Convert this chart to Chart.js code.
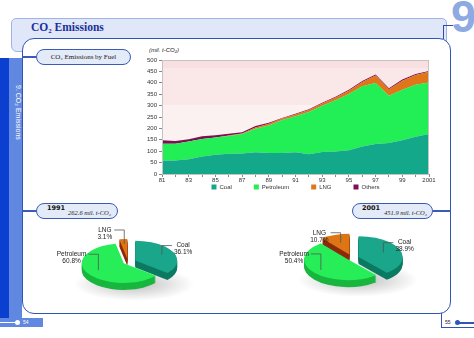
<!DOCTYPE html>
<html>
<head>
<meta charset="utf-8">
<script src="https://cdn.jsdelivr.net/npm/chart.js@4"></script>
<style>
body { margin: 0; width: 474px; height: 338px; background: #fff; position: relative; overflow: hidden; font-family: "Liberation Sans", Arial, sans-serif; }
div, canvas { position: absolute; box-sizing: border-box; }
#hdr { left: 11px; top: 18px; width: 436px; height: 34px; background: #dfe7f8; border: 1px solid #9fb4e6; border-radius: 5px 5px 0 6px; }
#hdrText { left: 31px; top: 21px; font: bold 11.5px "Liberation Serif", "DejaVu Serif", serif; color: #1a2f9c; }
#nine { left: 451px; top: -9px; font: bold 45px "Liberation Sans", Arial, sans-serif; color: #8eaae2; }
#hook { left: 443px; top: 25px; width: 10px; height: 14px; border-top: 1.5px solid #2a4fb0; border-left: 1.5px solid #2a4fb0; }
#panel { left: 22px; top: 38px; width: 429px; height: 276px; background: #fff; border: 1.5px solid #2f55b5; border-radius: 12px; }
#stripeDark { left: 0; top: 58px; width: 9px; height: 260px; background: #0b3fd0; }
#stripeLight { left: 9px; top: 58px; width: 13px; height: 269px; background: #6188e0; }
#footL { left: 0; top: 318px; width: 43px; height: 9px; background: #6188e0; }
#footLine { left: 0; top: 322px; width: 17px; height: 1px; background: #fff; }
#footDot { left: 15px; top: 320px; width: 5px; height: 5px; border-radius: 50%; background: #fff; }
#p54 { left: 23px; top: 319px; font-size: 5px; color: #fff; }
#side { left: 10px; top: 85px; width: 12px; writing-mode: vertical-rl; font-size: 7px; color: #fff; white-space: nowrap; }
#footR { left: 441px; top: 313px; width: 40px; height: 15px; border-left: 1.5px solid #2f55b5; border-bottom: 1.5px solid #2f55b5; }
#p55 { left: 445px; top: 319px; font-size: 5px; color: #223; }
#footRLine { left: 456px; top: 322px; width: 20px; height: 1.5px; background: #2f55b5; }
#footRDot { left: 455px; top: 320px; width: 5px; height: 5px; border-radius: 50%; background: #2f55b5; }
.pill { background: #e3eaf8; border: 1px solid #3a5bb8; border-radius: 8px; }
.link { height: 1.5px; background: #3a5bb8; }
#t1 { left: 36px; top: 49px; width: 95px; height: 16px; font: 7px "Liberation Serif", serif; color: #222; text-align: center; line-height: 14px; }
.yr { font: bold 6.5px "DejaVu Sans", sans-serif; color: #111; }
.tot { font: italic 6.5px "Liberation Serif", serif; color: #222; }
#unit { left: 149px; top: 47px; font: italic 6px "Liberation Sans", Arial, sans-serif; color: #222; }
</style>
</head>
<body>
<div id="hdr"></div>
<div id="hdrText">CO₂ Emissions</div>
<div id="nine">9</div>
<div id="hook"></div>
<div id="stripeDark"></div>
<div id="stripeLight"></div>
<div id="footL"></div>
<div id="footLine"></div>
<div id="footDot"></div>
<div id="p54">54</div>
<div id="side">9. CO₂ Emissions</div>
<div id="panel"></div>
<div id="footR"></div>
<div id="p55">55</div>
<div id="footRLine"></div>
<div id="footRDot"></div>

<div class="link" style="left:22px;top:56px;width:14px"></div>
<div id="t1" class="pill">CO₂ Emissions by Fuel</div>

<div class="link" style="left:22px;top:210px;width:14px"></div>
<div class="pill" style="left:36px;top:203px;width:82px;height:16px"></div>
<div class="yr" style="left:47px;top:204px">1991</div>
<div class="tot" id="tot1991" style="left:68px;top:209px"></div>

<div class="link" style="left:433px;top:210px;width:18px"></div>
<div class="pill" style="left:352px;top:203px;width:81px;height:16px"></div>
<div class="yr" style="left:362px;top:204px">2001</div>
<div class="tot" id="tot2001" style="left:384px;top:209px"></div>

<div id="unit">(mil. t-CO₂)</div>
<canvas id="area" width="310" height="180" style="left:130px;top:44px"></canvas>
<canvas id="pie1991" width="170" height="88" style="left:43px;top:218px"></canvas>
<canvas id="pie2001" width="170" height="88" style="left:267px;top:214px"></canvas>

<script>
"use strict";

// emissions by fuel, mil. t-CO2
const years = ['81', '82', '83', '84', '85', '86', '87', '88', '89', '90', '91', '92', '93', '94', '95', '96', '97', '98', '99', '2000', '2001'];
const coal = [58, 59, 65, 77, 84, 89, 90, 95, 92, 92, 95, 87, 96, 99, 104, 121, 132, 136, 148, 163, 175];
const petroleum = [75, 74, 77, 77, 76, 78, 85, 103, 121, 145, 158, 185, 203, 225, 247, 264, 267, 207, 222, 228, 226];
const lng = [0, 0, 0, 0, 0, 2, 3, 6, 7, 6, 8, 9, 10, 12, 14, 19, 33, 29, 39, 43, 47];
const others = [15, 12, 10, 12, 10, 7, 5, 6, 5, 3, 3, 3, 3, 3, 4, 4, 4, 4, 5, 5, 4];

// pie shares (%)
const pieFuels = ['Coal', 'Petroleum', 'LNG'];
const share1991 = [36.1, 60.8, 3.1];
const share2001 = [38.9, 50.4, 10.7];
const total1991 = '262.6';
const total2001 = '451.9';

document.getElementById('tot1991').textContent = total1991 + ' mil. t-CO₂';
document.getElementById('tot2001').textContent = total2001 + ' mil. t-CO₂';

const tickFont = { family: '"Liberation Sans", Arial, sans-serif', size: 6 };

// pink bands behind the plot + grey frame
const plotBack = {
    id: 'plotBack',
    beforeDraw(chart) {
        const { ctx, chartArea: a, scales: { y } } = chart;
        const bands = [[465, 500, '#f8dfe1'], [300, 465, '#fae7e8'], [0, 300, '#fcf1f1']];
        ctx.save();
        bands.forEach(b => {
            const top = y.getPixelForValue(b[1]);
            const bot = y.getPixelForValue(b[0]);
            ctx.fillStyle = b[2];
            ctx.fillRect(a.left, top, a.right - a.left, bot - top);
        });
        ctx.restore();
    },
    afterDraw(chart) {
        const { ctx, chartArea: a } = chart;
        ctx.save();
        ctx.strokeStyle = '#c9c2c4';
        ctx.lineWidth = 1;
        ctx.strokeRect(a.left + 0.5, a.top + 0.5, a.right - a.left - 1, a.bottom - a.top);
        ctx.restore();
    }
};

// pull the legend up under the axis, keep its wide item spacing
const legendShift = {
    id: 'legendShift',
    afterLayout(chart) {
        const lg = chart.legend;
        lg.top -= 24;
        lg.bottom -= 24;
        lg.left += 16;
        lg.right += 16;
    }
};

function areaSet(label, data, color, fill) {
    return {
        label: label,
        data: data,
        backgroundColor: color,
        borderColor: color,
        borderWidth: 0,
        pointRadius: 0,
        fill: fill,
        tension: 0
    };
}

new Chart(document.getElementById('area'), {
    type: 'line',
    data: {
        labels: years,
        datasets: [
            areaSet('Coal', coal, '#14a88a', 'origin'),
            areaSet('Petroleum', petroleum, '#22ee55', '-1'),
            areaSet('LNG', lng, '#e0761a', '-1'),
            areaSet('Others', others, '#7d0f55', '-1')
        ]
    },
    options: {
        responsive: false,
        animation: false,
        layout: { padding: { top: 16, right: 11, left: 0, bottom: 0 } },
        scales: {
            x: {
                offset: false,
                grid: { drawOnChartArea: false, tickLength: 3, color: '#888' },
                border: { color: '#999' },
                ticks: {
                    font: tickFont, color: '#333', padding: 0, maxRotation: 0, autoSkip: false,
                    callback: (v, i) => (i % 2 === 0 ? years[i] : '')
                },
                afterFit(s) { s.height = 12; }
            },
            y: {
                stacked: true,
                min: 0,
                max: 500,
                grid: { drawOnChartArea: false, tickLength: 3, color: '#888' },
                border: { color: '#999' },
                ticks: { stepSize: 50, autoSkip: false, font: tickFont, color: '#333', padding: 2 },
                afterFit(s) { s.width = 32; }
            }
        },
        plugins: {
            legend: {
                position: 'bottom',
                labels: { boxWidth: 5, boxHeight: 5, padding: 22, font: tickFont, color: '#333' }
            },
            tooltip: { enabled: false }
        }
    },
    plugins: [plotBack, legendShift]
});

// 3d exploded pie drawn over chart.js arc geometry
const sideColors = ['#0c7a62', '#19b63f', '#8e2a0c'];
const pie3d = {
    id: 'pie3d',
    beforeDatasetsDraw(chart, args, opts) {
        const ctx = chart.ctx;
        const arcs = chart.getDatasetMeta(0).data;
        const cx = arcs[0].x, cy = arcs[0].y;
        const k = opts.k, depth = opts.depth;

        // soft shadow
        ctx.save();
        ctx.translate(cx + 6, cy + 22);
        ctx.scale(1, 0.28);
        const g = ctx.createRadialGradient(0, 0, 0, 0, 0, 60);
        g.addColorStop(0, 'rgba(0,0,0,0.26)');
        g.addColorStop(1, 'rgba(0,0,0,0)');
        ctx.fillStyle = g;
        ctx.fillRect(-62, -62, 124, 124);
        ctx.restore();

        ctx.save();
        ctx.translate(0, cy * (1 - k));
        ctx.scale(1, k);
        const sector = (a, i, dy, color) => {
            const mid = (a.startAngle + a.endAngle) / 2;
            const ox = Math.cos(mid) * opts.explode[i];
            const oy = Math.sin(mid) * opts.explode[i] + dy;
            ctx.beginPath();
            ctx.moveTo(a.x + ox, a.y + oy);
            ctx.arc(a.x + ox, a.y + oy, a.outerRadius, a.startAngle, a.endAngle);
            ctx.closePath();
            ctx.fillStyle = color;
            ctx.fill();
        };
        for (let d = depth; d >= 1; d--) {
            arcs.forEach((a, i) => sector(a, i, d / k, sideColors[i]));
        }
        arcs.forEach((a, i) => sector(a, i, 0, a.options.backgroundColor));
        ctx.restore();
        return false;
    },
    afterDraw(chart, args, opts) {
        const ctx = chart.ctx;
        const arcs = chart.getDatasetMeta(0).data;
        const vals = chart.data.datasets[0].data;
        const k = opts.k;
        ctx.save();
        ctx.font = '6.5px "Liberation Sans", Arial, sans-serif';
        ctx.fillStyle = '#222';
        ctx.strokeStyle = '#555';
        ctx.lineWidth = 0.8;
        ctx.textBaseline = 'middle';
        arcs.forEach((a, i) => {
            const mid = (a.startAngle + a.endAngle) / 2;
            const r = opts.explode[i] + a.outerRadius * opts.reach[i];
            const ax = a.x + Math.cos(mid) * r;
            const ay = a.y + Math.sin(mid) * r * k;
            const ey = ay - opts.rise[i];
            const right = Math.cos(mid) >= 0;
            const ex = right ? ax + 10 : ax - 10;
            ctx.beginPath();
            ctx.moveTo(ax, ay);
            ctx.lineTo(ax, ey);
            ctx.lineTo(ex, ey);
            ctx.stroke();
            const l1 = chart.data.labels[i];
            const l2 = vals[i].toFixed(1) + '%';
            const w = Math.max(ctx.measureText(l1).width, ctx.measureText(l2).width);
            const tx = right ? ex + 2 + w / 2 : ex - 2 - w / 2;
            ctx.textAlign = 'center';
            ctx.fillText(l1, tx, ey);
            ctx.fillText(l2, tx, ey + 7);
        });
        ctx.restore();
    }
};

function drawPie(id, shares, radius, explode, reach, rise) {
    new Chart(document.getElementById(id), {
        type: 'pie',
        data: {
            labels: pieFuels,
            datasets: [{ data: shares, backgroundColor: ['#1aa68a', '#27ee58', '#dd7514'], borderWidth: 0 }]
        },
        options: {
            responsive: false,
            animation: false,
            radius: radius,
            plugins: {
                legend: { display: false },
                tooltip: { enabled: false },
                pie3d: { k: 0.47, depth: 7, explode: explode, reach: reach, rise: rise }
            }
        },
        plugins: [pie3d]
    });
}

drawPie('pie1991', share1991, 42, [8, 5, 7], [0.7, 0.7, 0.75], [9, 16, 14]);
drawPie('pie2001', share2001, 44, [7, 5, 8], [0.6, 0.8, 0.6], [10, 16, 10]);
</script>
</body>
</html>
